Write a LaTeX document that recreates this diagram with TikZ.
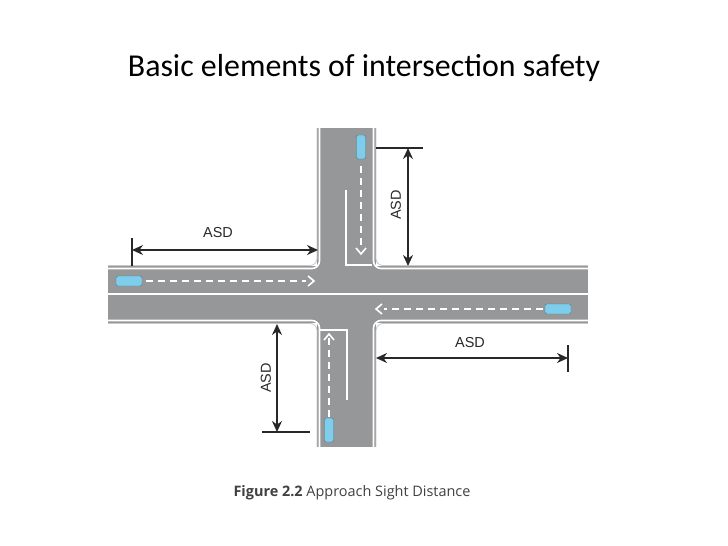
\documentclass[tikz,border=0pt]{standalone}
\usepackage{fontspec}
\setmainfont{Carlito}
\newfontfamily\capfont{Open Sans}
\newfontfamily\asdfont{Liberation Sans}
\usetikzlibrary{arrows.meta}
\definecolor{road}{RGB}{150,151,153}
\definecolor{edge}{RGB}{200,200,200}
\definecolor{dim}{RGB}{40,40,40}
\definecolor{car}{RGB}{125,205,235}
\tikzset{
  whiteln/.style={white,line width=1.6bp},
  lane/.style={white,line width=1.6bp,dash pattern=on 7bp off 5bp},
  chev/.style={white,line width=1.6bp},
  dimln/.style={dim,line width=1.6bp,{Stealth[length=11bp,width=10bp]}-{Stealth[length=11bp,width=10bp]}},
  tick/.style={dim,line width=1.3bp},
  carbox/.style={fill=car,draw=car!60!black,line width=0.4bp,rounded corners=2bp},
  lbl/.style={font=\asdfont\fontsize{14.5}{16}\selectfont,text=dim,inner sep=0pt}
}
\begin{document}
\begin{tikzpicture}[x=1bp,y=-1bp]
\useasboundingbox (0,0) rectangle (728,546);
\node (title) at (364,68) {\fontsize{32}{36}\selectfont Basic elements of intersection safety};
% roads
\fill[road] (108,266) rectangle (588,323);
\fill[road] (317,128) rectangle (376,447);
\draw[edge,line width=0.8bp] (108,265.5) -- (310,265.5) arc[start angle=90,end angle=0,radius=7] -- (317,128);
\draw[edge,line width=0.8bp] (376,128) -- (376,258.5) arc[start angle=180,end angle=90,radius=7] -- (588,265.5);
\draw[edge,line width=0.8bp] (108,323.5) -- (310,323.5) arc[start angle=-90,end angle=0,radius=7] -- (317,447);
\draw[edge,line width=0.8bp] (376,447) -- (376,330.5) arc[start angle=180,end angle=270,radius=7] -- (588,323.5);
\draw[whiteln] (108,268.5) -- (312,268.5) arc[start angle=90,end angle=0,radius=7.5] -- (319.5,128);
\draw[whiteln] (373.5,128) -- (373.5,261) arc[start angle=180,end angle=90,radius=7.5] -- (588,268.5);
\draw[whiteln] (108,320.5) -- (312,320.5) arc[start angle=-90,end angle=0,radius=7.5] -- (319.5,447);
\draw[whiteln] (373.5,447) -- (373.5,328) arc[start angle=180,end angle=270,radius=7.5] -- (588,320.5);
\draw[whiteln] (108,294) -- (588,294);
% medians / stop lines
\draw[whiteln] (346,190) -- (346,265) -- (372,265);
\draw[whiteln] (320,330) -- (347,330) -- (347,400);
% lanes
\draw[lane] (361,166) -- (361,250);
\draw[chev] (356,248) -- (361,254) -- (366,248);
\draw[lane] (329,417) -- (329,338);
\draw[chev] (324,340) -- (329,334) -- (334,340);
\draw[lane] (146,281) -- (306,281);
\draw[chev] (308,276) -- (314,281) -- (308,286);
\draw[lane] (543,309) -- (384,309);
\draw[chev] (382,304) -- (376,309) -- (382,314);
% cars
\node[carbox,minimum width=9bp,minimum height=24bp,inner sep=0pt] (c1) at (361,147) {};
\node[carbox,minimum width=9bp,minimum height=24bp,inner sep=0pt] (c2) at (329,430) {};
\node[carbox,minimum width=26bp,minimum height=10bp,inner sep=0pt] (c3) at (129,281) {};
\node[carbox,minimum width=26bp,minimum height=10bp,inner sep=0pt] (c4) at (558,309) {};
% dimensions
\coordinate (a1) at (132,250); \coordinate (a2) at (318,250);
\draw[dimln] (a1) -- (a2);
\draw[tick] (132,238) -- (132,266);
\node[lbl] (l1) at (218,233) {ASD};
\coordinate (b1) at (408,148); \coordinate (b2) at (408,266);
\draw[dimln] (b1) -- (b2);
\draw[tick] (376,148) -- (423,148);
\node[lbl,rotate=90] (l2) at (396,205) {ASD};
\coordinate (d1) at (277,324); \coordinate (d2) at (277,432);
\draw[dimln] (d1) -- (d2);
\draw[tick] (262,432) -- (310,432);
\node[lbl,rotate=90] (l3) at (266,378) {ASD};
\coordinate (e1) at (376,358); \coordinate (e2) at (568,358);
\draw[dimln] (e1) -- (e2);
\draw[tick] (568,345) -- (568,372);
\node[lbl] (l4) at (470,343) {ASD};
% caption
\node[inner sep=0pt,text=black!75] (cap) at (352,493) {\capfont\fontsize{14.5}{16}\selectfont\textbf{Figure 2.2} Approach Sight Distance};
\end{tikzpicture}
\end{document}
